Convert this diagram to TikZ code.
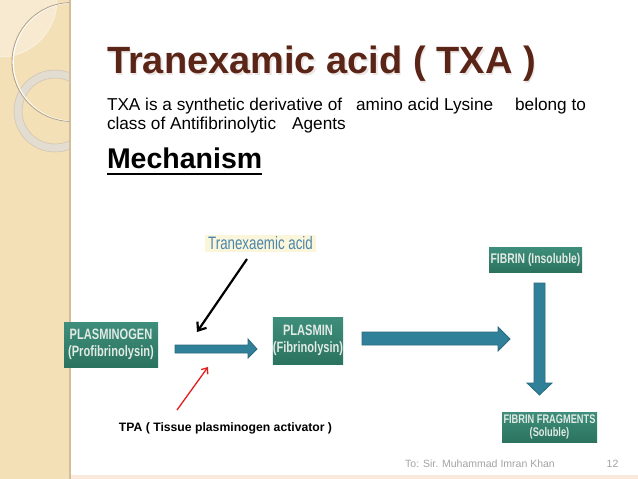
\documentclass[tikz,border=0pt]{standalone}
\usepackage{fontspec}
\setmainfont{Liberation Sans}
\newfontfamily\narrowfont[FakeStretch=0.74]{Liberation Sans}
\usetikzlibrary{arrows.meta}
\definecolor{beige}{HTML}{F3E0B6}
\definecolor{beigelight}{HTML}{F7EAD0}
\definecolor{stripedge}{HTML}{D2BF9A}
\definecolor{circline}{HTML}{B4A384}
\definecolor{ringcol}{HTML}{E3DDD1}
\definecolor{ringedge}{HTML}{CBC2B0}
\definecolor{titlecol}{HTML}{5A2416}
\definecolor{boxtop}{HTML}{3E8E7B}
\definecolor{boxbot}{HTML}{2B735F}
\definecolor{boxtext}{HTML}{E2EAE4}
\definecolor{arrowfill}{HTML}{31809A}
\definecolor{arrowdraw}{HTML}{2A6A7E}
\definecolor{txacol}{HTML}{4A86AE}
\definecolor{txabg}{HTML}{FBF6DA}
\definecolor{footcol}{HTML}{A3A3A3}
\definecolor{bottomband}{HTML}{FBEADC}
\definecolor{tpared}{HTML}{E0201E}
\begin{document}
\begin{tikzpicture}[x=1pt,y=-1pt,
  greenbox/.style={top color=boxtop, bottom color=boxbot, draw=none,
    text=boxtext, align=center, inner sep=0pt,
    font=\narrowfont\bfseries\fontsize{15}{16.5}\selectfont},
  blockarrow/.style={fill=arrowfill, draw=arrowdraw, line width=0.8pt, line join=miter},
  plain/.style={inner sep=0pt, outer sep=0pt}]
\useasboundingbox (0,0) rectangle (638,479);
\fill[white] (0,0) rectangle (638,479);
% left strip
\fill[beige] (0,0) rectangle (69,479);
\begin{scope}
  \clip (0,0) rectangle (69,479);
  \fill[beigelight] (0,0) -- (57,0) arc[start angle=0, end angle=90, radius=57] -- cycle;
  \draw[beigelight!60!white, line width=0.8pt] (57,0) arc[start angle=0, end angle=90, radius=57];
  \fill[ringcol, even odd rule] (55,111) circle[radius=41] (55,111) circle[radius=33];
  \draw[ringedge, line width=0.5pt] (55,111) circle[radius=41] (55,111) circle[radius=33];
  \draw[white, line width=1.6pt] (72.5,62) circle[radius=59.5];
  \draw[circline, line width=0.9pt] (71.5,62) circle[radius=59.5];
\end{scope}
\fill[stripedge] (68.5,0) rectangle (71,479);
\fill[bottomband] (71,475) rectangle (638,479);
% title and text
\node[plain, anchor=base west, text=titlecol!12!white, font=\bfseries\fontsize{38}{40}\selectfont] at (108.5,75) {Tranexamic acid ( TXA )};
\node[plain, anchor=base west, text=titlecol, font=\bfseries\fontsize{38}{40}\selectfont] (title) at (107,73.5) {Tranexamic acid ( TXA )};
\node[plain, anchor=base west, font=\fontsize{17.2}{18}\selectfont] (desc1) at (107,110) {TXA is a synthetic derivative of\hspace{14pt}amino acid Lysine\hspace{22pt}belong to};
\node[plain, anchor=base west, font=\fontsize{17.2}{18}\selectfont] (desc2) at (107,129) {class of Antifibrinolytic\hspace{16pt}Agents};
\node[plain, anchor=base west, font=\bfseries\fontsize{28.5}{30}\selectfont] (mech) at (107,168) {Mechanism};
\draw[line width=2.4pt] ([yshift=-6pt]mech.base west) -- ([yshift=-6pt]mech.base east);
% diagram nodes
\node[greenbox, minimum width=94pt, minimum height=45pt] (plg) at (111,344.5) {PLASMINOGEN\\(Profibrinolysin)};
\node[greenbox, minimum width=70pt, minimum height=47pt] (pls) at (308,340.5) {PLASMIN\\(Fibrinolysin)};
\node[greenbox, minimum width=93pt, minimum height=25pt, font=\narrowfont\bfseries\fontsize{14}{15}\selectfont] (fib) at (535.5,259.5) {FIBRIN (Insoluble)};
\node[greenbox, minimum width=95pt, minimum height=30pt, font=\narrowfont\bfseries\fontsize{12.5}{13.5}\selectfont] (frag) at (549.5,427) {FIBRIN FRAGMENTS\\(Soluble)};
\node[fill=txabg, inner xsep=3pt, inner ysep=2pt, text=txacol, font=\narrowfont\fontsize{18}{19}\selectfont] (txa) at (260.5,243.5) {Tranexaemic acid};
\node[plain, font=\bfseries\fontsize{12.2}{14}\selectfont] (tpa) at (225.5,428) {TPA ( Tissue plasminogen activator )};
% block arrows
\draw[blockarrow] (175,345) -- (248,345) -- (248,339) -- (257,349) -- (248,358) -- (248,353) -- (175,353) -- cycle;
\draw[blockarrow] (362,332) -- (498,332) -- (498,327) -- (510,339) -- (498,351) -- (498,345) -- (362,345) -- cycle;
\draw[blockarrow] (534,283) -- (545,283) -- (545,383) -- (552,383) -- (539.5,395) -- (527,383) -- (534,383) -- cycle;
% thin arrows
\coordinate (inhib) at (197,332);
\coordinate (txatail) at (247,259);
\coordinate (act) at (208,367);
\coordinate (tpatail) at (177,410);
\draw[line width=2.2pt, -{Straight Barb[length=7pt,width=11pt,line width=2.2pt]}] (txatail) -- (inhib);
\draw[tpared, line width=1.3pt, -{Straight Barb[length=5pt,width=8pt]}] (tpatail) -- (act);
% footer
\node[plain, text=footcol, font=\fontsize{10.5}{12}\selectfont] (foot) at (480,464) {To: Sir. Muhammad Imran Khan};
\node[plain, text=footcol, font=\fontsize{10.5}{12}\selectfont] (page) at (612.5,464) {12};
\end{tikzpicture}
\end{document}
